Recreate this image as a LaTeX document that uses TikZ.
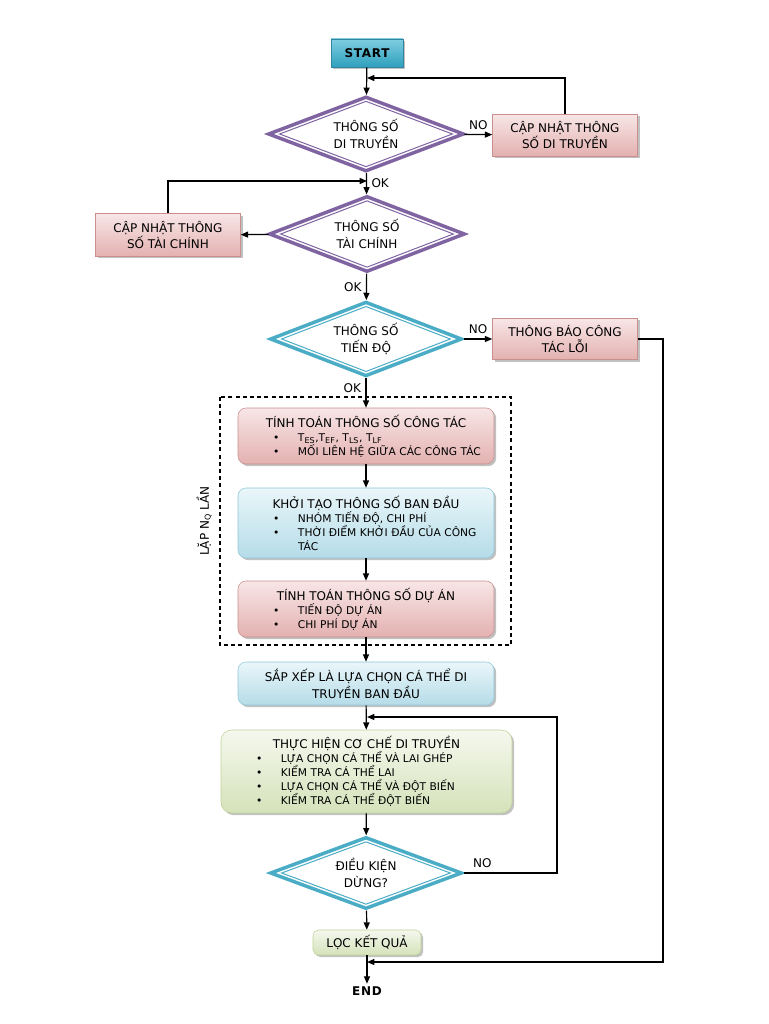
\documentclass[tikz,border=0pt]{standalone}
\usepackage{fontspec}
\setmainfont{DejaVu Sans}
\usetikzlibrary{shapes.geometric,arrows.meta,shadows}
\definecolor{pinktop}{HTML}{F8E6E6}
\definecolor{pinkbot}{HTML}{E3B1B0}
\definecolor{pinkline}{HTML}{C98F8E}
\definecolor{bluetop}{HTML}{EAF6FA}
\definecolor{bluebot}{HTML}{B5DCE8}
\definecolor{blueline}{HTML}{8CC8DA}
\definecolor{greentop}{HTML}{F5F8EE}
\definecolor{greenbot}{HTML}{D5E2BA}
\definecolor{greenline}{HTML}{BFD396}
\definecolor{starttop}{HTML}{7FCDE0}
\definecolor{startbot}{HTML}{2FA0BE}
\definecolor{startline}{HTML}{31859C}
\definecolor{dpurple}{HTML}{8064A2}
\definecolor{dteal}{HTML}{4BACC6}
\newcommand{\bitem}[1]{\\\hspace*{26.25pt}\makebox[18.75pt][l]{\textbullet}#1}
\newcommand{\btitle}[1]{\makebox[\linewidth][c]{\fontsize{9}{11}\selectfont #1}}

\begin{document}
\begin{tikzpicture}[x=0.75pt,y=-0.75pt,
	font=\fontsize{9}{12.5}\selectfont,
	arr/.style={-{Triangle[length=5.5pt,width=4.5pt]},line width=0.9pt},
	shade box/.style={drop shadow={shadow xshift=1.6pt,shadow yshift=-1.6pt,opacity=.35,fill=black!70}},
	pinkbox/.style={shade box,draw=pinkline,top color=pinktop,bottom color=pinkbot,align=center,inner sep=0pt},
	bluebox/.style={shade box,draw=blueline,top color=bluetop,bottom color=bluebot,align=center,inner sep=0pt},
	greenbox/.style={shade box,draw=greenline,top color=greentop,bottom color=greenbot,align=center,inner sep=0pt},
	listbox/.style={rounded corners=6pt,align=left,inner sep=0pt,font=\fontsize{8}{10.5}\selectfont},
	decision/.style={diamond,aspect=2.6,inner sep=0pt,align=center,fill=white,
		draw=#1,line width=2.6pt,
		path picture={\draw[#1,line width=.75pt]
			([yshift=-3.1pt]path picture bounding box.north) -- ([xshift=-8.2pt]path picture bounding box.east)
			-- ([yshift=3.1pt]path picture bounding box.south) -- ([xshift=8.2pt]path picture bounding box.west) -- cycle;}},
	label/.style={font=\fontsize{9}{11}\selectfont}]
\useasboundingbox (0,0) rectangle (768,1024);

\node[shade box,draw=startline,top color=starttop,bottom color=startbot,minimum width=54pt,minimum height=21pt,
	font=\bfseries\fontsize{9}{11}\selectfont\addfontfeature{LetterSpace=6}] (start) at (367,53) {START};

\node[decision=dpurple,minimum width=147pt,minimum height=56.25pt] (ditruyen) at (366,134) {THÔNG SỐ\\DI TRUYỀN};
\node[pinkbox,minimum width=108.75pt,minimum height=31.5pt] (capnhat1) at (565,135) {CẬP NHẬT THÔNG\\SỐ DI TRUYỀN};

\node[decision=dpurple,minimum width=147pt,minimum height=57pt] (taichinh) at (367,234) {THÔNG SỐ\\TÀI CHÍNH};
\node[pinkbox,minimum width=108.75pt,minimum height=32pt] (capnhat2) at (168,235) {CẬP NHẬT THÔNG\\SỐ TÀI CHÍNH};

\node[decision=dteal,minimum width=144pt,minimum height=56pt] (tiendo) at (366,339) {THÔNG SỐ\\TIẾN ĐỘ};
\node[pinkbox,minimum width=108.75pt,minimum height=31pt] (loi) at (565,339) {THÔNG BÁO CÔNG\\TÁC LỖI};

\draw[dashed,dash pattern=on 3pt off 2.4pt,line width=0.9pt] (220,397) rectangle (511,645);
\node[rotate=90,label] (lap) at (204,521) {LẶP N\textsubscript{Q} LẦN};

\node[pinkbox,listbox,text width=192pt,minimum height=42pt] (congtac) at (366,436)
	{\btitle{TÍNH TOÁN THÔNG SỐ CÔNG TÁC}
	\bitem{T\textsubscript{ES},T\textsubscript{EF}, T\textsubscript{LS}, T\textsubscript{LF}}
	\bitem{MỐI LIÊN HỆ GIỮA CÁC CÔNG TÁC}};
\node[bluebox,listbox,text width=192pt,minimum height=52.5pt] (khoitao) at (366,523)
	{\btitle{KHỞI TẠO THÔNG SỐ BAN ĐẦU}
	\bitem{NHÓM TIẾN ĐỘ, CHI PHÍ}
	\bitem{THỜI ĐIỂM KHỞI ĐẦU CỦA CÔNG}\\\hspace*{45pt}TÁC};
\node[pinkbox,listbox,text width=192pt,minimum height=42pt] (duan) at (366,609)
	{\btitle{TÍNH TOÁN THÔNG SỐ DỰ ÁN}
	\bitem{TIẾN ĐỘ DỰ ÁN}
	\bitem{CHI PHÍ DỰ ÁN}};

\node[bluebox,rounded corners=6pt,minimum width=192pt,minimum height=32.25pt] (sapxep) at (366,683.5)
	{SẮP XẾP LÀ LỰA CHỌN CÁ THỂ DI\\TRUYỀN BAN ĐẦU};

\node[greenbox,listbox,rounded corners=8pt,text width=218.25pt,minimum height=62.25pt] (cheche) at (366.5,771.5)
	{\btitle{THỰC HIỆN CƠ CHẾ DI TRUYỀN}
	\bitem{LỰA CHỌN CÁ THỂ VÀ LAI GHÉP}
	\bitem{KIỂM TRA CÁ THỂ LAI}
	\bitem{LỰA CHỌN CÁ THỂ VÀ ĐỘT BIẾN}
	\bitem{KIỂM TRA CÁ THỂ ĐỘT BIẾN}};

\node[decision=dteal,minimum width=144pt,minimum height=54pt] (dieukien) at (366,873) {ĐIỀU KIỆN\\DỪNG?};
\node[greenbox,rounded corners=4pt,minimum width=81pt,minimum height=18.75pt] (loc) at (367,942.5) {LỌC KẾT QUẢ};
\node[font=\bfseries\fontsize{9}{11}\selectfont\addfontfeature{LetterSpace=6},inner sep=2pt] (fin) at (367,991) {END};

\coordinate (j1) at (367,78);
\coordinate (j2) at (367,181);
\coordinate (j3) at (367,717);
\coordinate (j4) at (367,962);

\draw[arr] (start) -- (ditruyen);
\draw[arr] (ditruyen) -- node[label,above]{NO} (capnhat1);
\draw[arr] (capnhat1.north) |- (j1);
\draw[arr] (ditruyen) -- node[label,right,pos=.45]{OK} (taichinh);
\draw[arr] (capnhat2.north) |- (j2);
\draw[arr] (taichinh) -- (capnhat2);
\draw[arr] (taichinh) -- node[label,left]{OK} (tiendo);
\draw[arr] (tiendo) -- node[label,above]{NO} (loi);
\draw[arr] (loi.east) -- (663,339) |- (j4);
\draw[arr] (tiendo) -- node[label,left,pos=.35]{OK} (congtac);
\draw[arr] (congtac) -- (khoitao);
\draw[arr] (khoitao) -- (duan);
\draw[arr] (duan) -- (sapxep);
\draw[arr] (sapxep) -- (cheche);
\draw[arr] (dieukien.east) -- node[label,above,pos=.2]{NO} (557,873) |- (j3);
\draw[arr] (cheche) -- (dieukien);
\draw[arr] (dieukien) -- (loc);
\draw[arr] (loc) -- (fin);
\end{tikzpicture}
\end{document}
